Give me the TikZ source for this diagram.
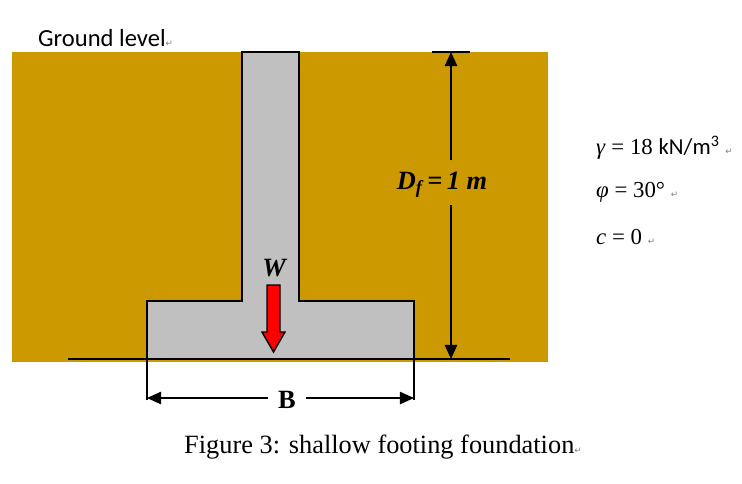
\documentclass[tikz,border=0pt]{standalone}
\usepackage{fontspec}
\setmainfont{Liberation Serif}
\newfontfamily\calfont{Carlito}
\newfontfamily\djfont{DejaVu Sans}
\usetikzlibrary{arrows.meta}
\definecolor{soil}{HTML}{CC9900}
\definecolor{conc}{HTML}{C0C0C0}
\newcommand{\parmark}{{\djfont\color{gray}\tiny ↵}}
\begin{document}
\begin{tikzpicture}[x=0.02cm,y=-0.02cm,
  dim/.style={line width=0.9pt,-{Triangle[length=8pt,width=7pt]}},
  lab/.style={font=\bfseries\itshape\fontsize{15}{15}\selectfont,inner sep=2pt},
  param/.style={anchor=west,font=\fontsize{13}{13}\selectfont}]
\useasboundingbox (0,0) rectangle (742,483);
\fill[soil] (12,52) rectangle (548,362);
\draw[line width=1.5pt,fill=conc] (242,52) -- (299,52) -- (299,301) -- (414,301) -- (414,359) -- (147,359) -- (147,301) -- (242,301) -- cycle;
\draw[line width=1.5pt] (68,359) coordinate (gl) -- (510,359) coordinate (gr);
\node[font=\calfont\fontsize{14}{14}\selectfont,anchor=west] (gtxt) at (32,38) {Ground level\parmark};
% Df dimension
\coordinate (dt) at (451,52); \coordinate (db) at (451,359);
\draw[line width=1pt] (432,52) -- (470,52);
\node[lab] (df) at (442,185) {D\textsubscript{\itshape f}\,=\,1 \textit{m}};
\draw[dim] (451,160) -- (dt);
\draw[dim] (451,205) -- (db);
% B dimension
\draw[line width=0.9pt] (147,359) -- (147,400);
\draw[line width=0.9pt] (414,359) -- (414,400);
\node[lab,font=\bfseries\fontsize{15}{15}\selectfont] (b) at (287,400) {B};
\draw[dim] (268,398) -- (147,398);
\draw[dim] (306,398) -- (414,398);
% W
\node[lab] (w) at (274,268) {W};
\draw[fill=red,line width=0.8pt] (267,285) -- (280,285) -- (280,332) -- (285,332) -- (273.5,352) -- (262,332) -- (267,332) -- cycle;
% params
\node[param] (g) at (590,148) {\textit{γ} = 18 {\calfont kN/m\textsuperscript{3}}\ \parmark};
\node[param] (p) at (590,192) {\textit{φ} = 30°\ \parmark};
\node[param] (c) at (590,237) {\textit{c} = 0\ \parmark};
\node[font=\fontsize{15}{15}\selectfont] (cap) at (383,447) {Figure 3: shallow footing foundation\parmark};
\end{tikzpicture}
\end{document}
